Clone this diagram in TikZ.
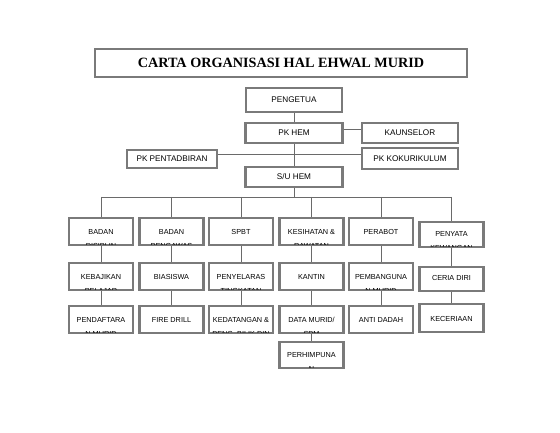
\documentclass[tikz,border=0pt]{standalone}
\usepackage{fontspec}
\setmainfont{Liberation Sans}
\newfontfamily\titlefont{Liberation Serif}
\usetikzlibrary{calc}
\definecolor{framegrey}{HTML}{7A7A7A}
\definecolor{linkgrey}{HTML}{6A6A6A}
\tikzset{every node/.style={font=\fontsize{8.2}{10}\selectfont},
  frame/.style={draw=framegrey,line width=2.3pt,fill=white},
  officer/.style={frame,minimum height=20pt,inner sep=0pt},
  unit/.style={frame,minimum width=64pt,inner sep=0pt},
  unittxt/.style={anchor=north,inner sep=0pt,align=center,
    font=\fontsize{7.3}{14}\selectfont},
  link/.style={draw=linkgrey,line width=0.6pt}}
\newcommand{\fTitle}{\titlefont\bfseries\fontsize{14.2}{16}\selectfont}
% box with the text set from the bottom up, clipped by the frame
\newcommand{\unitbox}[6]{%
  \node[unit,minimum height=#4pt] (#1) at (#2,#3) {};
  \begin{scope}
    \clip ([shift={(1.6pt,-1.6pt)}]#1.north west) rectangle
      ([shift={(-1.6pt,1.6pt)}]#1.south east);
    \node[unittxt] at ([yshift=17pt]#1.south) {#5\\#6};
  \end{scope}}

\begin{document}
\begin{tikzpicture}[x=1pt,y=-1pt]
  \path[use as bounding box,fill=white] (0,0) rectangle (560,433);

  % Title
  \node[frame,minimum width=372pt,minimum height=28pt] (title) at (281,63)
    {\fTitle CARTA ORGANISASI HAL EHWAL MURID};

  % Officers
  \node[officer,minimum width=96pt,minimum height=24pt] (pengetua) at (294,100) {PENGETUA};
  \node[officer,minimum width=97pt] (pkhem) at (294,133) {PK HEM};
  \node[officer,minimum width=96pt] (kaunselor) at (410,133) {KAUNSELOR};
  \node[officer,minimum width=90pt,minimum height=18pt] (pkpentadbiran) at (172,159) {PK PENTADBIRAN};
  \node[officer,minimum width=96pt,minimum height=21pt] (pkkokurikulum) at (410,158.5) {PK KOKURIKULUM};
  \node[officer,minimum width=97pt] (suhem) at (294,177) {S/U HEM};

  \draw[link] (pengetua) -- (pkhem);
  \draw[link] (pkhem) -- (suhem);
  \draw[link] ([yshift=4pt]pkhem.east) -- ([yshift=4pt]kaunselor.west);
  \coordinate (pklink) at ([yshift=5pt]pkpentadbiran.east);
  \draw[link] (pklink) -- (pklink -| pkkokurikulum.west);

  % Units, row by row
  \unitbox{badandisiplin}{101}{231.5}{27}{BADAN}{DISIPLIN}
  \unitbox{badanpengawas}{171.5}{231.5}{27}{BADAN}{PENGAWAS}
  \unitbox{spbt}{241}{231.5}{27}{SPBT}{}
  \unitbox{kesihatan}{311.5}{231.5}{27}{KESIHATAN \&}{RAWATAN}
  \unitbox{perabot}{381}{231.5}{27}{PERABOT}{}
  \unitbox{penyata}{451.5}{234.5}{25}{PENYATA}{KEWANGAN}

  \unitbox{kebajikan}{101}{276.5}{27}{KEBAJIKAN}{PELAJAR}
  \unitbox{biasiswa}{171.5}{276.5}{27}{BIASISWA}{}
  \unitbox{penyelaras}{241}{276.5}{27}{PENYELARAS}{TINGKATAN}
  \unitbox{kantin}{311.5}{276.5}{27}{KANTIN}{}
  \unitbox{pembangunan}{381}{276.5}{27}{PEMBANGUNA}{N MURID}
  \unitbox{ceriadiri}{451.5}{279}{24}{CERIA DIRI}{}

  \unitbox{pendaftaran}{101}{319.5}{27}{PENDAFTARA}{N MURID}
  \unitbox{firedrill}{171.5}{319.5}{27}{FIRE DRILL}{}
  \unitbox{kedatangan}{241}{319.5}{27}{KEDATANGAN \&}{PENG. BILIK DIN}
  \unitbox{datamurid}{311.5}{319.5}{27}{DATA MURID/}{SPM}
  \unitbox{antidadah}{381}{319.5}{27}{ANTI DADAH}{}
  \unitbox{keceriaan}{451.5}{318}{28}{KECERIAAN}{}

  \unitbox{perhimpunan}{311.5}{355}{26}{PERHIMPUNA}{N}

  % Links to the units
  \coordinate (bus) at (294,197);
  \draw[link] (suhem) -- (bus);
  \draw[link] (bus -| badandisiplin.north) -- (bus -| penyata.north);
  \foreach \top/\mid/\low in {badandisiplin/kebajikan/pendaftaran,
      badanpengawas/biasiswa/firedrill, spbt/penyelaras/kedatangan,
      kesihatan/kantin/datamurid, perabot/pembangunan/antidadah,
      penyata/ceriadiri/keceriaan} {
    \draw[link] (bus -| \top.north) -- (\top.north);
    \draw[link] (\top) -- (\mid);
    \draw[link] (\mid) -- (\low);
  }
  \draw[link] (datamurid) -- (perhimpunan);
\end{tikzpicture}
\end{document}
